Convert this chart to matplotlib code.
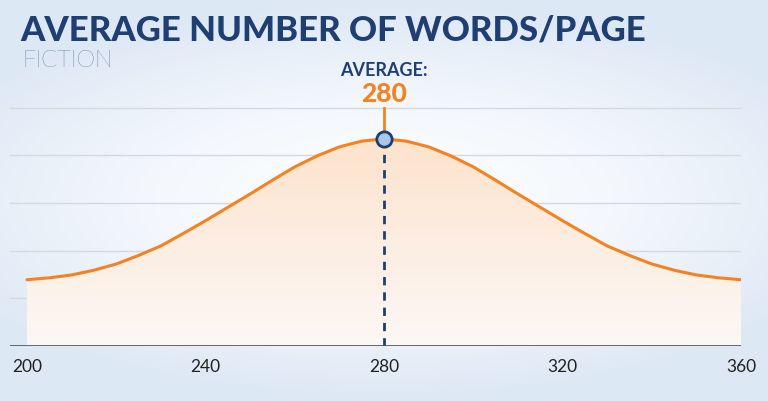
import numpy as np
import matplotlib
matplotlib.use("Agg")
import matplotlib.pyplot as plt
from matplotlib.colors import LinearSegmentedColormap

# words per page (x) and curve height (y)
words = [200, 205, 210, 215, 220, 225, 230, 235, 240, 245, 250, 255, 260, 265, 270, 275, 280,
         285, 290, 295, 300, 305, 310, 315, 320, 325, 330, 335, 340, 345, 350, 355, 360]
height = [1.39, 1.43, 1.49, 1.59, 1.72, 1.90, 2.10, 2.36, 2.63, 2.91, 3.19, 3.48, 3.76, 3.99, 4.18, 4.30, 4.35,
          4.30, 4.18, 3.99, 3.76, 3.48, 3.19, 2.91, 2.63, 2.36, 2.10, 1.90, 1.72, 1.59, 1.49, 1.43, 1.39]
xticks = [200, 240, 280, 320, 360]
avg = 280
peak = 4.35

navy = "#1f3f73"
orange = "#f58220"

plt.rcParams['font.family'] = ['Lato', 'DejaVu Sans']
fig = plt.figure(figsize=(7.68, 4.02), dpi=100)

# soft blue background
bg = fig.add_axes([0, 0, 1, 1], zorder=0)
yy, xx = np.mgrid[-1:1:200j, -1:1:200j]
r = np.clip(np.sqrt(xx**2 * 0.6 + yy**2), 0, 1)
bg_cmap = LinearSegmentedColormap.from_list("bg", ["#ffffff", "#f3f7fc", "#dde8f5"])
bg.imshow(r, cmap=bg_cmap, aspect="auto", extent=[0, 1, 0, 1])
bg.axis("off")

ax = fig.add_axes([0.013, 0.137, 0.952, 0.616], zorder=1)
ax.patch.set_alpha(0)
ax.set_xlim(196.2, 360)
ax.set_ylim(0, 5.2)

for g in [1, 2, 3, 4, 5]:
    ax.axhline(g, color="#d4d9e0", lw=1, zorder=1)

# gradient fill under the curve
fill_cmap = LinearSegmentedColormap.from_list("fill", ["#fbf8f6", "#fde3cc"])
grad = np.linspace(0, 1, 256).reshape(-1, 1)
im = ax.imshow(grad, cmap=fill_cmap, aspect="auto", origin="lower",
               extent=[200, 360, 0, peak], zorder=2)
poly = ax.fill_between(words, height, 0, color="none")
im.set_clip_path(poly.get_paths()[0], transform=ax.transData)
ax.set_xlim(196.2, 360)
ax.set_ylim(0, 5.2)

ax.plot(words, height, color=orange, lw=2.2, zorder=3, solid_capstyle="round")
ax.plot([avg, avg], [0, peak], color=navy, lw=2, ls=(0, (3, 2.5)), zorder=3)
ax.plot([avg, avg], [peak, 5.0], color=orange, lw=2, zorder=3)
ax.plot([avg], [peak], marker="o", ms=11, mfc="#a9c6ec", mec=navy, mew=2, zorder=4)

ax.axhline(0, color="#4a4f57", lw=1.2, zorder=3)
ax.set_xticks(xticks)
ax.tick_params(axis="x", length=0, labelsize=12.5, colors="#222222", pad=9)
ax.set_yticks([])
for s in ax.spines.values():
    s.set_visible(False)

fig.text(0.027, 0.925, "AVERAGE NUMBER OF WORDS/PAGE", fontsize=25, fontweight="black",
         color=navy, va="center")
fig.text(0.029, 0.85, "FICTION", fontsize=17, fontweight="light", color=navy, va="center")
fig.text(0.5, 0.825, "AVERAGE:", fontsize=13, fontweight="bold", color=navy,
         ha="center", va="center")
fig.text(0.5, 0.765, "280", fontsize=19, fontweight="black", color=orange,
         ha="center", va="center")

fig.savefig("out.png", dpi=100)
